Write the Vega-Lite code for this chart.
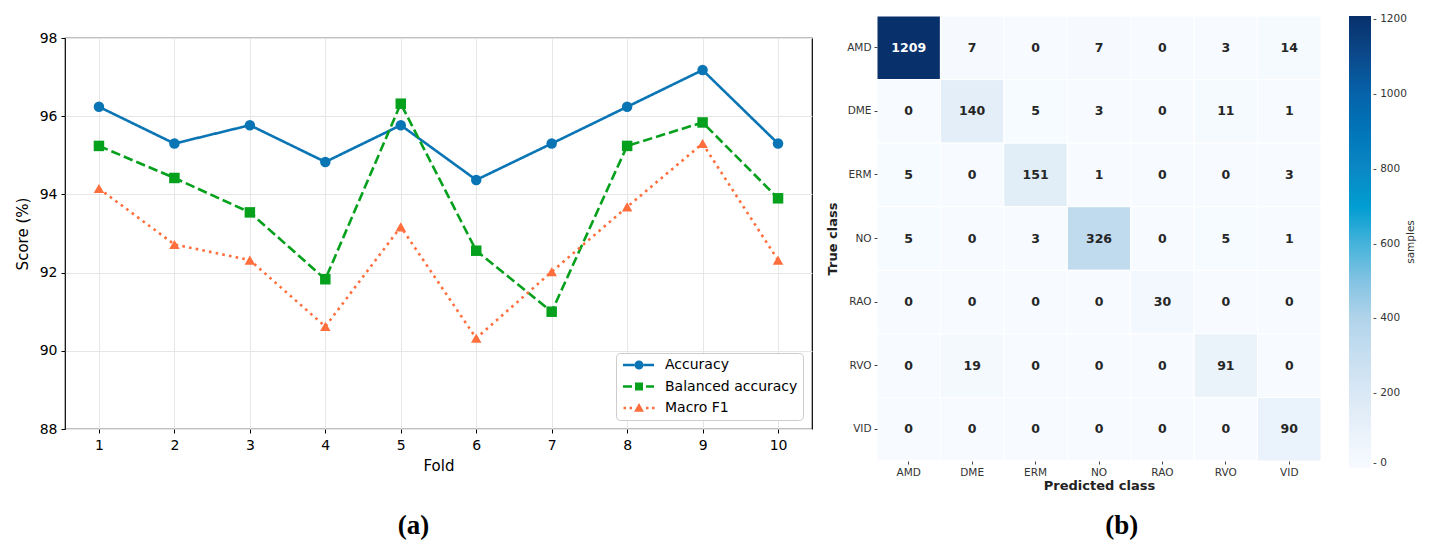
{
  "$schema": "https://vega.github.io/schema/vega-lite/v6.json",
  "background": "white",
  "padding": {"left": 14, "top": 15, "right": 8, "bottom": 8},
  "spacing": 13,
  "datasets": {
    "folds": [
      {"fold": 1, "metric": "Accuracy", "score": 96.24},
      {"fold": 2, "metric": "Accuracy", "score": 95.30},
      {"fold": 3, "metric": "Accuracy", "score": 95.77},
      {"fold": 4, "metric": "Accuracy", "score": 94.83},
      {"fold": 5, "metric": "Accuracy", "score": 95.77},
      {"fold": 6, "metric": "Accuracy", "score": 94.37},
      {"fold": 7, "metric": "Accuracy", "score": 95.30},
      {"fold": 8, "metric": "Accuracy", "score": 96.24},
      {"fold": 9, "metric": "Accuracy", "score": 97.18},
      {"fold": 10, "metric": "Accuracy", "score": 95.30},
      {"fold": 1, "metric": "Balanced accuracy", "score": 95.24},
      {"fold": 2, "metric": "Balanced accuracy", "score": 94.42},
      {"fold": 3, "metric": "Balanced accuracy", "score": 93.54},
      {"fold": 4, "metric": "Balanced accuracy", "score": 91.83},
      {"fold": 5, "metric": "Balanced accuracy", "score": 96.32},
      {"fold": 6, "metric": "Balanced accuracy", "score": 92.56},
      {"fold": 7, "metric": "Balanced accuracy", "score": 91.00},
      {"fold": 8, "metric": "Balanced accuracy", "score": 95.24},
      {"fold": 9, "metric": "Balanced accuracy", "score": 95.84},
      {"fold": 10, "metric": "Balanced accuracy", "score": 93.90},
      {"fold": 1, "metric": "Macro F1", "score": 94.15},
      {"fold": 2, "metric": "Macro F1", "score": 92.72},
      {"fold": 3, "metric": "Macro F1", "score": 92.32},
      {"fold": 4, "metric": "Macro F1", "score": 90.62},
      {"fold": 5, "metric": "Macro F1", "score": 93.17},
      {"fold": 6, "metric": "Macro F1", "score": 90.32},
      {"fold": 7, "metric": "Macro F1", "score": 92.02},
      {"fold": 8, "metric": "Macro F1", "score": 93.68},
      {"fold": 9, "metric": "Macro F1", "score": 95.30},
      {"fold": 10, "metric": "Macro F1", "score": 92.32}
    ],
    "confusion": [
      {"actual": "AMD", "predicted": "AMD", "n": 1209},
      {"actual": "AMD", "predicted": "DME", "n": 7},
      {"actual": "AMD", "predicted": "ERM", "n": 0},
      {"actual": "AMD", "predicted": "NO", "n": 7},
      {"actual": "AMD", "predicted": "RAO", "n": 0},
      {"actual": "AMD", "predicted": "RVO", "n": 3},
      {"actual": "AMD", "predicted": "VID", "n": 14},
      {"actual": "DME", "predicted": "AMD", "n": 0},
      {"actual": "DME", "predicted": "DME", "n": 140},
      {"actual": "DME", "predicted": "ERM", "n": 5},
      {"actual": "DME", "predicted": "NO", "n": 3},
      {"actual": "DME", "predicted": "RAO", "n": 0},
      {"actual": "DME", "predicted": "RVO", "n": 11},
      {"actual": "DME", "predicted": "VID", "n": 1},
      {"actual": "ERM", "predicted": "AMD", "n": 5},
      {"actual": "ERM", "predicted": "DME", "n": 0},
      {"actual": "ERM", "predicted": "ERM", "n": 151},
      {"actual": "ERM", "predicted": "NO", "n": 1},
      {"actual": "ERM", "predicted": "RAO", "n": 0},
      {"actual": "ERM", "predicted": "RVO", "n": 0},
      {"actual": "ERM", "predicted": "VID", "n": 3},
      {"actual": "NO", "predicted": "AMD", "n": 5},
      {"actual": "NO", "predicted": "DME", "n": 0},
      {"actual": "NO", "predicted": "ERM", "n": 3},
      {"actual": "NO", "predicted": "NO", "n": 326},
      {"actual": "NO", "predicted": "RAO", "n": 0},
      {"actual": "NO", "predicted": "RVO", "n": 5},
      {"actual": "NO", "predicted": "VID", "n": 1},
      {"actual": "RAO", "predicted": "AMD", "n": 0},
      {"actual": "RAO", "predicted": "DME", "n": 0},
      {"actual": "RAO", "predicted": "ERM", "n": 0},
      {"actual": "RAO", "predicted": "NO", "n": 0},
      {"actual": "RAO", "predicted": "RAO", "n": 30},
      {"actual": "RAO", "predicted": "RVO", "n": 0},
      {"actual": "RAO", "predicted": "VID", "n": 0},
      {"actual": "RVO", "predicted": "AMD", "n": 0},
      {"actual": "RVO", "predicted": "DME", "n": 19},
      {"actual": "RVO", "predicted": "ERM", "n": 0},
      {"actual": "RVO", "predicted": "NO", "n": 0},
      {"actual": "RVO", "predicted": "RAO", "n": 0},
      {"actual": "RVO", "predicted": "RVO", "n": 91},
      {"actual": "RVO", "predicted": "VID", "n": 0},
      {"actual": "VID", "predicted": "AMD", "n": 0},
      {"actual": "VID", "predicted": "DME", "n": 0},
      {"actual": "VID", "predicted": "ERM", "n": 0},
      {"actual": "VID", "predicted": "NO", "n": 0},
      {"actual": "VID", "predicted": "RAO", "n": 0},
      {"actual": "VID", "predicted": "RVO", "n": 0},
      {"actual": "VID", "predicted": "VID", "n": 90}
    ]
  },
  "config": {
    "font": "DejaVu Sans",
    "axis": {"labelFont": "DejaVu Sans", "titleFont": "DejaVu Sans"},
    "legend": {"labelFont": "DejaVu Sans", "titleFont": "DejaVu Sans"}
  },
  "hconcat": [
    {
      "spacing": 0,
      "resolve": {"legend": {"color": "independent"}},
      "vconcat": [
        {
          "width": 747,
          "height": 14,
          "data": {"values": []},
          "mark": {"type": "rect", "opacity": 0},
          "view": {"stroke": null}
        },
        {
          "width": 747,
          "height": 391,
          "data": {"name": "folds"},
          "view": {"stroke": "#000000", "strokeWidth": 1.2},
          "title": {
            "text": "(a)", "orient": "bottom", "anchor": "middle", "frame": "bounds",
            "font": "Liberation Serif", "fontSize": 27, "fontWeight": "bold",
            "color": "#000000", "offset": 40
          },
          "encoding": {
            "x": {
              "field": "fold", "type": "quantitative",
              "scale": {"domain": [0.55, 10.45], "nice": false, "zero": false},
              "axis": {
                "values": [1, 2, 3, 4, 5, 6, 7, 8, 9, 10], "format": "d",
                "title": "Fold", "domain": false,
                "grid": true, "gridColor": "#e6e6e6", "gridWidth": 1,
                "ticks": true, "tickSize": 4, "tickColor": "#000000",
                "labelFontSize": 14, "labelColor": "#000000", "labelPadding": 5,
                "titleFontSize": 15, "titleFontWeight": "normal", "titleColor": "#000000", "titlePadding": 6
              }
            },
            "y": {
              "field": "score", "type": "quantitative",
              "scale": {"domain": [88, 98], "nice": false, "zero": false},
              "axis": {
                "values": [88, 90, 92, 94, 96, 98],
                "title": "Score (%)", "domain": false,
                "grid": true, "gridColor": "#e6e6e6", "gridWidth": 1,
                "ticks": true, "tickSize": 4, "tickColor": "#000000",
                "labelFontSize": 14, "labelColor": "#000000", "labelPadding": 4,
                "titleFontSize": 15, "titleFontWeight": "normal", "titleColor": "#000000", "titlePadding": 9
              }
            },
            "color": {
              "field": "metric", "type": "nominal",
              "scale": {
                "domain": ["Accuracy", "Balanced accuracy", "Macro F1"],
                "range": ["#0a75b5", "#05a01c", "#ff6e3c"]
              },
              "legend": {
                "title": null, "orient": "bottom-right", "offset": 9,
                "fillColor": "#ffffff", "strokeColor": "#cccccc", "cornerRadius": 4,
                "padding": 5, "rowPadding": 7.5,
                "symbolSize": 100, "symbolStrokeWidth": 0, "labelOffset": 30,
                "labelFontSize": 14, "labelColor": "#000000", "labelLimit": 300,
                "encode": {
                  "symbols": {
                    "update": {
                      "shape": {"signal": "datum.value === 'Accuracy' ? 'M-1,-0.25H1.3V0.25H-1Z M3.1,-0.25H5.2V0.25H3.1Z M1.3,0A0.9,0.9 0 1,0 3.1,0A0.9,0.9 0 1,0 1.3,0Z' : datum.value === 'Balanced accuracy' ? 'M-1,-0.25H0.8V0.25H-1Z M1.4,-0.8H3V0.8H1.4Z M3.6,-0.25H5.2V0.25H3.6Z' : 'M-0.9,-0.25H-0.4V0.25H-0.9Z M0.3,-0.25H0.8V0.25H0.3Z M2.2,-1L3.2,0.75H1.2Z M3.6,-0.25H4.1V0.25H3.6Z M4.8,-0.25H5.3V0.25H4.8Z'"},
                      "fill": {"signal": "scale('color', datum.value)"},
                      "stroke": {"value": "transparent"},
                      "strokeWidth": {"value": 0},
                      "opacity": {"value": 1}
                    }
                  }
                }
              }
            }
          },
          "layer": [
            {
              "mark": {"type": "line", "strokeWidth": 2.6},
              "encoding": {
                "strokeDash": {
                  "field": "metric", "type": "nominal",
                  "scale": {
                    "domain": ["Accuracy", "Balanced accuracy", "Macro F1"],
                    "range": [[1, 0], [9.5, 4], [2.6, 4.2]]
                  },
                  "legend": null
                }
              }
            },
            {
              "mark": {"type": "point", "filled": true, "opacity": 1, "size": 110},
              "encoding": {
                "shape": {
                  "field": "metric", "type": "nominal",
                  "scale": {
                    "domain": ["Accuracy", "Balanced accuracy", "Macro F1"],
                    "range": ["circle", "square", "triangle-up"]
                  },
                  "legend": null
                }
              }
            }
          ]
        }
      ]
    },
    {
      "width": 444,
      "height": 445,
      "data": {"name": "confusion"},
      "view": {"stroke": null},
      "title": {
        "text": "(b)", "orient": "bottom", "anchor": "middle", "frame": "bounds",
        "font": "Liberation Serif", "fontSize": 27, "fontWeight": "bold",
        "color": "#000000", "offset": 20
      },
      "encoding": {
        "x": {
          "field": "predicted", "type": "ordinal",
          "sort": ["AMD", "DME", "ERM", "NO", "RAO", "RVO", "VID"],
          "scale": {"paddingInner": 0, "paddingOuter": 0},
          "axis": {
            "title": "Predicted class", "labelAngle": 0, "domain": false,
            "ticks": true, "tickSize": 3, "tickColor": "#444444",
            "labelFontSize": 10.5, "labelColor": "#333333", "labelPadding": 3,
            "titleFontSize": 13, "titleFontWeight": "bold", "titleColor": "#222222", "titlePadding": 2
          }
        },
        "y": {
          "field": "actual", "type": "ordinal",
          "sort": ["AMD", "DME", "ERM", "NO", "RAO", "RVO", "VID"],
          "scale": {"paddingInner": 0, "paddingOuter": 0},
          "axis": {
            "title": "True class", "domain": false,
            "ticks": true, "tickSize": 3, "tickColor": "#444444",
            "labelFontSize": 10.5, "labelColor": "#333333", "labelPadding": 3,
            "titleFontSize": 13, "titleFontWeight": "bold", "titleColor": "#222222", "titlePadding": 7
          }
        }
      },
      "layer": [
        {
          "mark": {"type": "rect", "stroke": "#ffffff", "strokeWidth": 1},
          "encoding": {
            "color": {
              "field": "n", "type": "quantitative",
              "scale": {
                "type": "linear",
                "domain": [0, 200, 400, 600, 660, 800, 1000, 1209],
                "range": ["#f7fbff", "#dae8f5", "#b1d4ea", "#45b3db", "#00a6d6", "#0a88c4", "#0563aa", "#08306b"]
              },
              "legend": {
                "type": "gradient", "direction": "vertical", "orient": "right",
                "title": "samples", "titleOrient": "right", "titleFontSize": 10.5,
                "titleFontWeight": "normal", "titleColor": "#333333", "titleAnchor": "middle",
                "titlePadding": 9,
                "gradientLength": 452, "gradientThickness": 22, "gradientStrokeWidth": 0,
                "offset": 28, "values": [0, 200, 400, 600, 800, 1000, 1200], "format": "d",
                "labelExpr": "'- ' + datum.label", "labelFontSize": 10.5, "labelColor": "#333333",
                "labelOffset": 2, "labelOverlap": false,
                "encode": {"title": {"update": {"angle": {"value": -90}}}}
              }
            }
          }
        },
        {
          "mark": {"type": "text", "fontWeight": "bold", "fontSize": 12.5, "font": "DejaVu Sans"},
          "encoding": {
            "text": {"field": "n", "type": "quantitative", "format": "d"},
            "color": {
              "condition": {"test": "datum.n > 700", "value": "#ffffff"},
              "value": "#262626"
            }
          }
        }
      ]
    }
  ]
}
